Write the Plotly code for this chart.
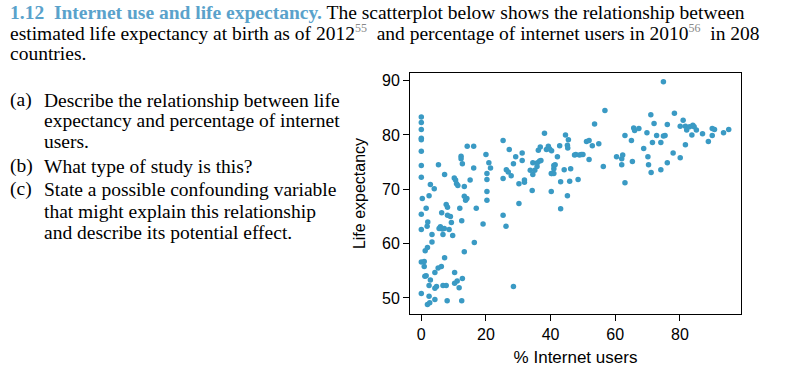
import plotly.graph_objects as go

internet_pct = [
    0, 0, 0, 0, 0, 0, 0, 0, 0.3, 0, 0, 0, 0.9, 0.9, 1.1, 0,
    1.2, 1.5, 2.0, 1.8, 2.4, 2.8, 4.0, 1.5, 1.9, 2.4, 2.8, 1.9, 2.6, 2.4,
    3.3, 3.3, 4.2, 4.2, 4.7, 4.2, 5.2, 6.2, 5.3, 6.3, 5.5, 5.9, 6.5, 7.1,
    6.7, 7.2, 7.7, 8.1, 8.1, 9.0, 9.3, 8.6, 9.7, 7.2, 6.7, 7.7, 8.0, 10.3,
    10.3, 11.1, 11.7, 12.7, 12.5, 13.3, 10.2, 10.6, 10.9, 11.3, 11.9, 12.5,
    12.3, 12.3, 12.7, 13.3, 13.3, 14.1, 13.7, 14.2, 15.1, 16.2, 16.2, 17.0,
    16.4, 19.1, 20.0, 20.9, 20.3, 20.3, 20.3, 20.3, 21.4, 25.3, 25.3, 25.3,
    26.2, 26.3, 26.9, 27.2, 27.8, 28.5, 28.5, 29.2, 30.2, 30.2, 31.2, 31.2,
    31.9, 31.9, 33.7, 34.3, 34.5, 34.5, 35.1, 35.8, 35.9, 36.2, 36.6, 36.8,
    37.0, 38.1, 38.7, 39.3, 39.7, 40.3, 40.2, 40.2, 41.0, 41.0, 41.4, 40.4,
    41.0, 42.1, 42.8, 43.1, 43.1, 44.2, 44.6, 45.2, 45.3, 45.5, 45.2, 46.2,
    45.9, 47.4, 47.8, 48.5, 48.9, 49.5, 50.0, 51.1, 51.9, 51.9, 52.9, 53.6,
    54.9, 56.3, 56.8, 60.4, 62.0, 62.0, 62.3, 63.0, 63.0, 65.0, 65.3, 65.7,
    66.0, 67.3, 68.8, 69.8, 70.1, 70.3, 71.0, 71.1, 71.5, 72.0, 72.8, 74.1,
    74.1, 74.9, 74.9, 75.4, 76.1, 76.1, 77.9, 78.3, 80.1, 80.1, 81.0, 81.7,
    81.7, 82.1, 83.0, 83.7, 84.0, 84.4, 85.1, 87.0, 88.8, 90.0, 90.0, 90.7,
    93.5, 95.1,
]

life_expectancy = [
    83.3, 82.3, 81.0, 79.4, 79.1, 77.0, 74.4, 72.2, 68.3, 65.4, 62.6, 56.6,
    56.7, 55.8, 54.0, 50.8,
    58.7, 66.5, 64.0, 63.2, 68.8, 70.9, 70.1, 54.1, 59.3, 52.3, 53.3, 48.8,
    49.1, 50.3, 60.3, 61.7, 49.7, 51.8, 52.1, 54.7, 55.5, 55.8, 74.5, 65.7,
    62.8, 63.1, 62.7, 62.8, 61.7, 72.7, 67.2, 66.7, 65.2, 65.0, 63.9, 62.6,
    61.5, 57.4, 52.3, 52.3, 49.5, 54.7, 52.7, 53.1, 51.9, 53.6, 49.5, 58.5,
    72.1, 71.7, 71.0, 70.7, 66.5, 64.2, 76.1, 75.6, 74.7, 70.5, 68.7, 68.3,
    68.0, 77.9, 71.7, 77.9, 73.9, 66.5, 60.2, 63.6, 76.4, 74.9, 72.9, 71.8,
    69.6, 68.0, 73.9, 79.0, 72.0, 65.2, 63.2, 73.6, 73.2, 77.3, 72.5, 52.1,
    74.7, 76.0, 71.0, 67.4, 76.7, 75.3, 71.7, 71.3, 73.5, 69.8, 74.9, 72.7,
    73.5, 74.2, 74.9, 77.2, 75.2, 77.8, 75.3, 80.3, 77.3, 77.9, 77.4, 77.1,
    72.9, 69.6, 74.4, 73.8, 74.5, 72.9, 72.9, 76.0, 78.0, 66.4, 71.4, 73.6,
    80.0, 78.1, 77.6, 79.1, 68.8, 73.8, 71.5, 76.3, 76.4, 71.8, 76.3, 76.4,
    76.4, 78.8, 79.0, 75.5, 78.0, 82.0, 78.4, 74.2, 84.5, 76.0, 74.5, 75.6,
    76.3, 79.9, 71.2, 79.0, 75.1, 81.3, 80.8, 81.2, 77.5, 80.4, 76.0, 74.5,
    83.7, 73.1, 78.6, 82.1, 79.9, 78.6, 73.6, 89.8, 79.8, 79.9, 81.9, 74.9,
    76.7, 84.0, 81.6, 75.8, 82.7, 81.6, 78.2, 80.9, 81.5, 80.0, 81.8, 81.5,
    80.9, 80.2, 78.8, 81.2, 79.9, 81.0, 80.4, 81.0,
]

x_ticks = [0, 20, 40, 60, 80]
y_ticks = [50, 60, 70, 80, 90]

# page pixels (body margin removed via post_script)
W, H = 796, 374
L, R, T, B = 410, 741, 73, 314


def px(x):
    return (x - L) / (R - L)


def py(y):
    return (B - y) / (B - T)


fig = go.Figure()
fig.add_trace(go.Scatter(
    x=internet_pct, y=life_expectancy, mode="markers",
    marker=dict(color="#3A9AC4", size=5.5, line=dict(width=0)),
    hoverinfo="x+y", showlegend=False,
))

axis_common = dict(
    showline=True, linecolor="black", linewidth=1, mirror=True,
    ticks="outside", ticklen=6, tickcolor="black", tickwidth=1,
    showgrid=False, zeroline=False, automargin=False,
    tickfont=dict(family="Liberation Sans, Arial, sans-serif", size=16, color="black"),
)

fig.update_layout(
    width=W, height=H,
    margin=dict(l=L, r=W - R, t=T, b=H - B, pad=0),
    paper_bgcolor="white", plot_bgcolor="white",
    xaxis=dict(range=[-3.5, 98.9], tickvals=x_ticks,
               title=dict(text="% Internet users", standoff=8,
                          font=dict(family="Liberation Sans, Arial, sans-serif", size=17, color="black")),
               **axis_common),
    yaxis=dict(range=[47.05, 91.4], tickvals=y_ticks,
               title=dict(text="Life expectancy", standoff=12,
                          font=dict(family="Liberation Sans, Arial, sans-serif", size=16, color="black")),
               **axis_common),
)

serif = "Liberation Serif, Times New Roman, serif"
blue = "#5AA2CB"
sup = lambda s: f"<sup><span style='color:#888888;font-size:12px'>{s}</span></sup>"

text_lines = [
    (8, 12, f"<b><span style='color:{blue}'>1.12  Internet use and life expectancy.</span></b> "
            "The scatterplot below shows the relationship between"),
    (8, 33, "estimated life expectancy at birth as of 2012" + sup("55") +
            "  and percentage of internet users in 2010" + sup("56") + "  in 208"),
    (8, 53, "countries."),
    (8, 100, "(a)"), (42, 100, "Describe the relationship between life"),
    (42, 120, "expectancy and percentage of internet"),
    (42, 141, "users."),
    (8, 166, "(b)"), (42, 166, "What type of study is this?"),
    (8, 189, "(c)"), (42, 189, "State a possible confounding variable"),
    (42, 211, "that might explain this relationship"),
    (42, 232, "and describe its potential effect."),
]

for x0, yc, txt in text_lines:
    fig.add_annotation(
        x=px(x0), y=py(yc), xref="paper", yref="paper",
        xanchor="left", yanchor="middle", text=txt, showarrow=False,
        font=dict(family=serif, size=19.5, color="black"), align="left",
    )

fig.write_html(
    "out.html",
    config={"displayModeBar": False},
    post_script="document.body.style.margin='0';document.body.style.overflow='hidden';",
)
